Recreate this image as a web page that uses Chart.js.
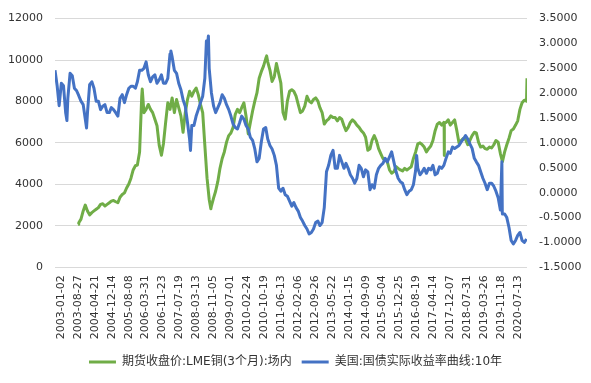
<!DOCTYPE html>
<html><head><meta charset="utf-8">
<script src="https://cdn.jsdelivr.net/npm/chart.js@4.4.0/dist/chart.umd.min.js"></script>
<style>html,body{margin:0;padding:0;background:#fff}#wrap{width:591px;height:383px}</style>
</head><body><div id="wrap"><canvas id="c" width="591" height="383"></canvas></div>
<script>
const copperLabel = '期货收盘价:LME铜(3个月):场内';
const tipsLabel = '美国:国债实际收益率曲线:10年';

const tickLabels = ['2003-01-02','2003-08-27','2004-04-21','2004-12-14','2005-08-08','2006-03-31','2006-11-23',
  '2007-07-19','2008-03-13','2008-11-05','2009-07-01','2010-02-24','2010-10-19','2011-06-13','2012-02-06',
  '2012-09-26','2013-05-22','2014-01-15','2014-09-09','2015-05-04','2015-12-25','2016-08-19','2017-04-14',
  '2017-12-07','2018-07-31','2019-03-26','2019-11-18','2020-07-13'];

const months = [
 '2003-01-02','2003-02','2003-03','2003-04','2003-05','2003-06','2003-07','2003-08','2003-09','2003-10','2003-11','2003-12',
 '2004-01','2004-02','2004-03','2004-04','2004-05','2004-06','2004-07','2004-08','2004-09','2004-10','2004-11','2004-12',
 '2005-01','2005-02','2005-03','2005-04','2005-05','2005-06','2005-07','2005-08','2005-09','2005-10','2005-11','2005-12',
 '2006-01','2006-02','2006-03','2006-04','2006-05','2006-06','2006-07','2006-08','2006-09','2006-10','2006-11','2006-12',
 '2007-01','2007-02','2007-03','2007-04','2007-05','2007-06','2007-07','2007-08','2007-09','2007-10','2007-11','2007-12',
 '2008-01','2008-02','2008-03','2008-04','2008-05','2008-06','2008-07','2008-08','2008-09','2008-10','2008-11','2008-12',
 '2009-01','2009-02','2009-03','2009-04','2009-05','2009-06','2009-07','2009-08','2009-09','2009-10','2009-11','2009-12',
 '2010-01','2010-02','2010-03','2010-04','2010-05','2010-06','2010-07','2010-08','2010-09','2010-10','2010-11','2010-12',
 '2011-01','2011-02','2011-03','2011-04','2011-05','2011-06','2011-07','2011-08','2011-09','2011-10','2011-11','2011-12',
 '2012-01','2012-02','2012-03','2012-04','2012-05','2012-06','2012-07','2012-08','2012-09','2012-10','2012-11','2012-12',
 '2013-01','2013-02','2013-03','2013-04','2013-05','2013-06','2013-07','2013-08','2013-09','2013-10','2013-11','2013-12',
 '2014-01','2014-02','2014-03','2014-04','2014-05','2014-06','2014-07','2014-08','2014-09','2014-10','2014-11','2014-12',
 '2015-01','2015-02','2015-03','2015-04','2015-05','2015-06','2015-07','2015-08','2015-09','2015-10','2015-11','2015-12',
 '2016-01','2016-02','2016-03','2016-04','2016-05','2016-06','2016-07','2016-08','2016-09','2016-10','2016-11','2016-12',
 '2017-01','2017-02','2017-03','2017-04','2017-05','2017-06','2017-07','2017-08','2017-09','2017-10','2017-11','2017-12',
 '2018-01','2018-02','2018-03','2018-04','2018-05','2018-06','2018-07','2018-08','2018-09','2018-10','2018-11','2018-12',
 '2019-01','2019-02','2019-03','2019-04','2019-05','2019-06','2019-07','2019-08','2019-09','2019-10','2019-11','2019-12',
 '2020-01','2020-02','2020-03','2020-04','2020-05','2020-06','2020-07','2020-08','2020-09','2020-10','2020-11','2020-12',
 '2021-01','2021-02'];

// LME copper 3M (left axis), monthly readings
const copperValues = [
 null,null,null,null,null,null,null,null,null,null,null,2150,
 2325,2720,3000,2720,2530,2640,2720,2800,2878,3036,3068,2957,
 3036,3115,3194,3226,3163,3115,3384,3510,3590,3827,4017,4301,
 4696,4902,4934,5566,8254,7463,7621,7858,7621,7463,7147,6831,
 5882,5408,5961,6989,7937,7621,8174,7463,8095,7700,7305,6514,
 7463,8095,8491,8254,8491,8649,8333,7858,7463,5882,4301,3274,
 2957,3352,3669,4143,4775,5250,5566,6040,6356,6483,6752,7384,
 7621,7463,7700,7937,7305,6435,6989,7542,8016,8412,9123,9439,
 9708,10072,9914,9518,8965,9202,9835,9360,8886,7463,7147,8016,
 8491,8570,8491,8254,7858,7463,7542,7779,8254,8016,7937,8095,
 8174,8016,7700,7463,6910,7068,7147,7305,7226,7226,7068,7226,
 7147,6831,6593,6752,6989,7115,7020,6862,6752,6593,6483,6277,
 5645,5724,6119,6356,6119,5724,5487,5250,5171,5092,4696,4538,
 4617,4855,4775,4696,4649,4775,4696,4775,4855,5250,5566,5961,
 6008,5914,5803,5566,5724,5851,6119,6593,6910,6989,6862,6989,
 6989,7115,6862,6989,7115,6593,6008,6119,6230,6167,5914,6119,
 6356,6514,6483,6040,5803,5851,5724,5693,5803,5756,5914,6119,
 6040,5487,5100,5566,5914,6230,6593,6672,6862,7068,7621,7937,
 8064,8016];
const copperExtraDates = ['2003-11-22','2006-05-08','2008-12-24','2011-02-14','2017-12-05','2017-12-07','2017-12-09','2021-02-08'];
const copperExtraValues = [2080,8600,2820,10200,6950,5400,6950,9120];

// US 10Y real yield (right axis), monthly readings
const tipsValues = [
 2.46,2.15,1.75,2.20,2.15,1.60,1.90,2.40,2.35,2.10,2.05,1.95,
 1.84,1.77,1.48,1.61,2.17,2.23,2.10,1.84,1.84,1.67,1.74,1.77,
 1.61,1.61,1.71,1.67,1.61,1.54,1.90,1.97,1.81,1.97,2.10,2.14,
 2.14,2.10,2.23,2.46,2.46,2.50,2.63,2.37,2.23,2.33,2.37,2.20,
 2.27,2.37,2.20,2.20,2.30,2.79,2.73,2.46,2.40,2.20,2.07,1.87,
 1.74,1.41,1.08,1.35,1.35,1.54,1.67,1.81,1.94,2.30,2.85,2.50,
 2.01,1.74,1.61,1.71,1.81,1.97,1.90,1.77,1.67,1.54,1.38,1.31,
 1.28,1.41,1.54,1.48,1.35,1.28,1.11,1.05,0.88,0.62,0.69,1.02,
 1.28,1.31,1.08,0.95,0.88,0.75,0.55,0.09,0.03,0.09,-0.04,-0.07,
 -0.17,-0.27,-0.20,-0.30,-0.37,-0.50,-0.57,-0.66,-0.73,-0.83,-0.80,-0.73,
 -0.60,-0.57,-0.66,-0.60,-0.30,0.42,0.55,0.75,0.85,0.49,0.49,0.75,
 0.62,0.49,0.59,0.49,0.36,0.29,0.19,0.29,0.55,0.49,0.32,0.46,
 0.42,0.06,0.16,0.09,0.36,0.49,0.55,0.59,0.69,0.62,0.72,0.82,
 0.62,0.42,0.29,0.22,0.19,0.06,-0.04,0.03,0.06,0.16,0.45,0.49,
 0.36,0.42,0.49,0.39,0.49,0.46,0.55,0.36,0.39,0.52,0.49,0.55,
 0.69,0.82,0.79,0.92,0.89,0.92,0.95,1.02,1.08,1.15,1.08,0.98,
 0.89,0.69,0.62,0.55,0.42,0.29,0.19,0.06,0.19,0.19,0.13,0.03,
 -0.10,-0.35,-0.43,-0.43,-0.50,-0.70,-0.96,-1.03,-0.96,-0.86,-0.80,-0.96,
 -1.00,-0.93];
const tipsExtraDates = ['2003-06-18','2004-03-19','2007-06-13','2008-03-14','2008-10-23','2008-11-20','2016-11-15','2020-02-22','2020-02-28'];
const tipsExtraValues = [1.45,1.30,2.85,0.85,3.05,3.15,0.75,0.62,-0.40];

const toDay = s => { const p = s.split('-').map(Number); return Date.UTC(p[0], p[1]-1, p[2] || 1) / 86400000; };
function buildSeries(dates, values, exDates, exValues) {
  const pts = [];
  dates.forEach((d, i) => { if (values[i] !== null && values[i] !== undefined) pts.push({x: toDay(d), y: values[i]}); });
  exDates.forEach((d, i) => pts.push({x: toDay(d), y: exValues[i]}));
  pts.sort((a, b) => a.x - b.x);
  return pts;
}

const txt = '#333333';
const tickFont = {family: "'DejaVu Sans', 'Noto Sans CJK SC', sans-serif", size: 11};

new Chart(document.getElementById('c'), {
  type: 'line',
  data: {
    datasets: [
      {label: copperLabel, data: buildSeries(months, copperValues, copperExtraDates, copperExtraValues),
       yAxisID: 'y', borderColor: '#70AD47', backgroundColor: '#70AD47', borderWidth: 3,
       pointRadius: 0, tension: 0, borderJoinStyle: 'round', order: 1},
      {label: tipsLabel, data: buildSeries(months, tipsValues, tipsExtraDates, tipsExtraValues),
       yAxisID: 'y1', borderColor: '#4472C4', backgroundColor: '#4472C4', borderWidth: 3,
       pointRadius: 0, tension: 0, borderJoinStyle: 'round', order: 0}
    ]
  },
  options: {
    responsive: false,
    animation: false,
    layout: {padding: {top: 14.3, bottom: 5, left: 0, right: 0}},
    plugins: {
      tooltip: {enabled: false},
      legend: {
        position: 'bottom',
        labels: {
          usePointStyle: true, pointStyle: 'line', pointStyleWidth: 27,
          color: txt, padding: 10,
          font: {family: "'DejaVu Sans', 'Noto Sans CJK SC', sans-serif", size: 12},
          sort: (a, b) => a.datasetIndex - b.datasetIndex
        }
      }
    },
    scales: {
      x: {
        type: 'linear', bounds: 'data',
        min: toDay('2003-01-02'), max: toDay('2021-02-08'),
        afterBuildTicks: s => { s.ticks = tickLabels.map(t => ({value: toDay(t)})); },
        afterFit: s => { s.height = 78.7; },
        ticks: {autoSkip: false, minRotation: 90, maxRotation: 90, padding: 8, labelOffset: 6,
                color: txt, font: tickFont, callback: (v, i) => tickLabels[i]},
        grid: {display: false, drawTicks: false},
        border: {display: false}
      },
      y: {
        position: 'left', min: 0, max: 12000,
        afterFit: s => { s.width = 55; },
        ticks: {stepSize: 2000, padding: 12, color: txt, font: tickFont, callback: v => String(v)},
        grid: {color: '#d9d9d9', lineWidth: 1, drawTicks: false},
        border: {display: false}
      },
      y1: {
        position: 'right', min: -1.5, max: 3.5,
        afterFit: s => { s.width = 64; },
        ticks: {stepSize: 0.5, padding: 12, color: txt, font: tickFont, callback: v => Number(v).toFixed(4)},
        grid: {display: false, drawTicks: false},
        border: {display: false}
      }
    }
  }
});
</script>
</body></html>
